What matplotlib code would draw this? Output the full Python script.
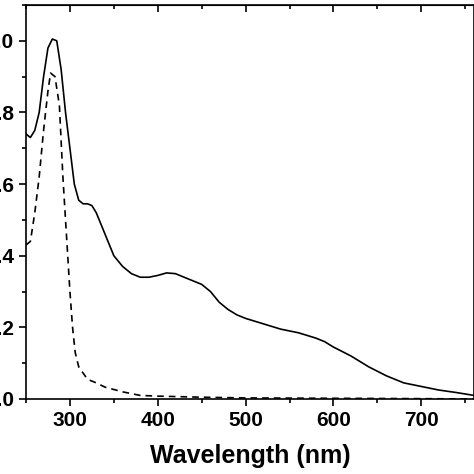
import matplotlib
matplotlib.use("Agg")
import matplotlib.pyplot as plt
from matplotlib.ticker import MultipleLocator

wl_solid = [250,255,260,265,270,275,280,285,290,295,300,305,310,315,320,325,330,340,350,360,370,380,390,400,410,420,430,440,450,460,470,480,490,500,520,540,560,580,590,600,620,640,660,680,700,720,740,760]
abs_solid = [0.74,0.73,0.75,0.80,0.90,0.98,1.005,1.0,0.92,0.80,0.70,0.60,0.555,0.545,0.545,0.54,0.52,0.46,0.40,0.37,0.35,0.34,0.34,0.345,0.352,0.35,0.34,0.33,0.32,0.30,0.27,0.25,0.235,0.225,0.21,0.195,0.185,0.17,0.16,0.145,0.12,0.09,0.065,0.045,0.035,0.025,0.018,0.01]
wl_dash = [250,255,260,265,270,275,278,283,288,292,296,300,303,306,310,320,330,340,360,380,400,450,500,600,700,760]
abs_dash = [0.43,0.44,0.52,0.62,0.75,0.86,0.91,0.90,0.82,0.62,0.46,0.30,0.20,0.13,0.09,0.055,0.045,0.033,0.02,0.01,0.008,0.005,0.003,0.002,0.001,0.0]

plt.rcParams['font.family'] = ['Liberation Sans', 'DejaVu Sans']
plt.rcParams['font.weight'] = 'bold'
fig = plt.figure(figsize=(4.74, 4.74), dpi=100)
ax = fig.add_axes([26/474, 1-399/474, (474-26)/474, (399-5)/474])
ax.plot(wl_solid, abs_solid, color='black', lw=1.2)
ax.plot(wl_dash, abs_dash, color='black', lw=1.2, ls=(0, (4, 3)))
ax.set_xlim(250, 760)
ax.set_ylim(0, 1.10)
ax.xaxis.set_major_locator(MultipleLocator(100))
ax.xaxis.set_minor_locator(MultipleLocator(50))
ax.yaxis.set_minor_locator(MultipleLocator(0.1))
ax.set_yticks([0, 0.2, 0.4, 0.6, 0.8, 1.0])
ax.set_yticklabels(['0.0', '0.2', '0.4', '0.6', '0.8', '1.0'])
ax.tick_params(which='both', direction='out', right=False, labelsize=15, width=1.2)
ax.tick_params(which='major', length=5)
ax.tick_params(which='minor', length=3)
sec = ax.secondary_xaxis('top')
sec.xaxis.set_major_locator(MultipleLocator(100))
sec.xaxis.set_minor_locator(MultipleLocator(50))
sec.tick_params(which='both', direction='in', labeltop=False, width=1.2)
sec.tick_params(which='major', length=5)
sec.tick_params(which='minor', length=3)
for sp in ax.spines.values():
    sp.set_linewidth(1.2)
ax.set_xlabel('Wavelength (nm)', fontsize=18, fontweight='bold', labelpad=10)
fig.savefig('out.png', dpi=100)
